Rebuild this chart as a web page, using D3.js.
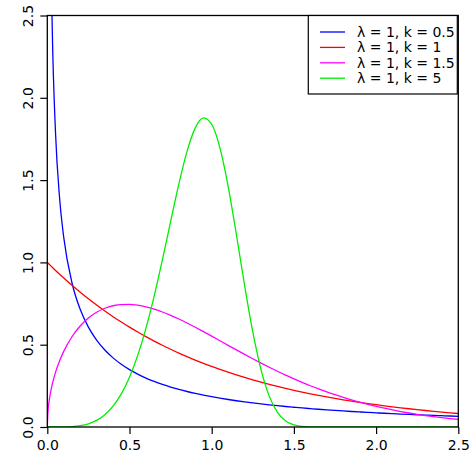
<!DOCTYPE html>
<html>
<head>
<meta charset="utf-8">
<script src="https://cdn.jsdelivr.net/npm/d3@7"></script>
<style>
  body { margin: 0; background: #fff; }
  text { font-family: "DejaVu Sans", sans-serif; }
</style>
</head>
<body>
<div class="container"></div>
<script>
const xs = [0, 0.005, 0.01, 0.02, 0.03, 0.05, 0.075, 0.1, 0.15, 0.2, 0.25, 0.3, 0.35, 0.4, 0.45, 0.5,
    0.55, 0.6, 0.65, 0.7, 0.75, 0.8, 0.85, 0.9, 0.95, 1.0, 1.05, 1.1, 1.15, 1.2, 1.25, 1.3, 1.35, 1.4,
    1.45, 1.5, 1.55, 1.6, 1.65, 1.7, 1.75, 1.8, 1.85, 1.9, 1.95, 2.0, 2.05, 2.1, 2.15, 2.2, 2.25, 2.3,
    2.35, 2.4, 2.45, 2.5];

const k05 = [null, null, 4.524, 3.069, 2.428, 1.788, 1.388, 1.1525, 0.8764, 0.7149, 0.6065, 0.5279, 0.4677,
    0.4200, 0.3811, 0.3487, 0.3212, 0.2975, 0.2769, 0.2589, 0.2428, 0.2286, 0.2157, 0.2041, 0.1936, 0.1839,
    0.1751, 0.1670, 0.1595, 0.1526, 0.1462, 0.1402, 0.1346, 0.1294, 0.1245, 0.1200, 0.1156, 0.1116, 0.1077,
    0.1041, 0.1007, 0.0974, 0.0943, 0.0914, 0.0886, 0.0860, 0.0834, 0.0810, 0.0787, 0.0765, 0.0744, 0.0724,
    0.0704, 0.0686, 0.0668, 0.0651];

const k1 = [1, 0.9950, 0.9900, 0.9802, 0.9704, 0.9512, 0.9277, 0.9048, 0.8607, 0.8187, 0.7788, 0.7408, 0.7047,
    0.6703, 0.6376, 0.6065, 0.5769, 0.5488, 0.5220, 0.4966, 0.4724, 0.4493, 0.4274, 0.4066, 0.3867, 0.3679,
    0.3499, 0.3329, 0.3166, 0.3012, 0.2865, 0.2725, 0.2592, 0.2466, 0.2346, 0.2231, 0.2122, 0.2019, 0.1920,
    0.1827, 0.1738, 0.1653, 0.1572, 0.1496, 0.1423, 0.1353, 0.1287, 0.1225, 0.1165, 0.1108, 0.1054, 0.1003,
    0.0954, 0.0907, 0.0863, 0.0821];

const k15 = [0, 0.1060, 0.1499, 0.2115, 0.2585, 0.3317, 0.4024, 0.4596, 0.5482, 0.6134, 0.6619, 0.6971, 0.7214,
    0.7366, 0.7440, 0.7448, 0.7398, 0.7300, 0.7161, 0.6987, 0.6785, 0.6560, 0.6316, 0.6059, 0.5792, 0.5518,
    0.5241, 0.4963, 0.4687, 0.4414, 0.4146, 0.3885, 0.3631, 0.3387, 0.3151, 0.2926, 0.2711, 0.2507, 0.2314,
    0.2132, 0.1960, 0.1799, 0.1648, 0.1507, 0.1376, 0.1254, 0.1141, 0.1036, 0.0940, 0.0851, 0.0770, 0.0695,
    0.0627, 0.0564, 0.0507, 0.0455];

const k5 = [0, 0, 0, 0, 0, 0, 0.0002, 0.0005, 0.0025, 0.0080, 0.0195, 0.0404, 0.0746, 0.1267, 0.2013, 0.3029,
    0.4351, 0.5995, 0.7948, 1.0148, 1.2478, 1.4757, 1.6747, 1.8175, 1.8785, 1.8394, 1.6961, 1.4626, 1.1703,
    0.8611, 0.5772, 0.3486, 0.1875, 0.0887, 0.0364, 0.0128, 0.0038, 0.0009, 0.0002, 0, 0, 0, 0, 0, 0, 0,
    0, 0, 0, 0, 0, 0, 0, 0, 0, 0];

const seriesLabels = ['λ = 1, k = 0.5', 'λ = 1, k = 1', 'λ = 1, k = 1.5', 'λ = 1, k = 5'];
const seriesColors = ['#0000ff', '#ff0000', '#ff00ff', '#00ee00'];
const xTicks = [0, 0.5, 1.0, 1.5, 2.0, 2.5];
const yTicks = [0, 0.5, 1.0, 1.5, 2.0, 2.5];

const w = 474;
const h = 474;
const plot = { left: 47.3, right: 458.3, top: 15.5, bottom: 427 };

const svg = d3.select('.container')
    .append('svg')
    .attr('width', w)
    .attr('height', h);

const xScale = d3.scaleLinear().domain([0, 2.5]).range([plot.left, plot.right]);
const yScale = d3.scaleLinear().domain([0, 2.5]).range([plot.bottom, plot.top]);

svg.append('clipPath')
    .attr('id', 'clip')
    .append('rect')
    .attr('x', plot.left)
    .attr('y', plot.top)
    .attr('width', plot.right - plot.left)
    .attr('height', plot.bottom - plot.top);

// curves
const series = [k05, k1, k15, k5];
const line = d3.line()
    .defined(d => d[1] !== null)
    .x(d => xScale(d[0]))
    .y(d => yScale(d[1]))
    .curve(d3.curveMonotoneX);

svg.append('g')
    .attr('clip-path', 'url(#clip)')
    .selectAll('path')
    .data(series)
    .join('path')
    .attr('d', ys => line(xs.map((x, i) => [x, ys[i]])))
    .attr('fill', 'none')
    .attr('stroke', (d, i) => seriesColors[i])
    .attr('stroke-width', 1.3);

// axes
const fmt = d3.format('.1f');
const xAxis = d3.axisBottom(xScale).tickValues(xTicks).tickFormat(fmt).tickSize(7).tickPadding(6);
const gx = svg.append('g')
    .attr('transform', `translate(0, ${plot.bottom})`)
    .call(xAxis);
gx.selectAll('text').style('font-size', '14px').attr('fill', '#000');

const yAxis = d3.axisLeft(yScale).tickValues(yTicks).tickFormat(fmt).tickSize(7);
const gy = svg.append('g')
    .attr('transform', `translate(${plot.left}, 0)`)
    .call(yAxis);
gy.selectAll('text')
    .style('font-size', '14px')
    .attr('fill', '#000')
    .attr('x', null)
    .attr('dy', null)
    .attr('text-anchor', 'middle')
    .attr('transform', 'translate(-14.5, 0) rotate(-90)');

svg.selectAll('.domain').remove();
svg.selectAll('.tick line').attr('stroke', '#000').attr('stroke-width', 1.2);

// box
svg.append('rect')
    .attr('x', plot.left)
    .attr('y', plot.top)
    .attr('width', plot.right - plot.left)
    .attr('height', plot.bottom - plot.top)
    .attr('fill', 'none')
    .attr('stroke', '#000')
    .attr('stroke-width', 1.3);

// legend
const legend = svg.append('g');
legend.append('rect')
    .attr('x', 308.3)
    .attr('y', plot.top)
    .attr('width', plot.right - 1 - 308.3)
    .attr('height', 94 - plot.top)
    .attr('fill', '#fff')
    .attr('stroke', '#000')
    .attr('stroke-width', 1.2);

const rows = legend.selectAll('g.row')
    .data(seriesLabels)
    .join('g')
    .attr('transform', (d, i) => `translate(0, ${32 + i * 15.4})`);

rows.append('line')
    .attr('x1', 320)
    .attr('x2', 345)
    .attr('stroke', (d, i) => seriesColors[i])
    .attr('stroke-width', 1.3);

rows.append('text')
    .text(d => d)
    .attr('x', 357)
    .attr('dy', '0.36em')
    .style('font-size', '14px');
</script>
</body>
</html>
